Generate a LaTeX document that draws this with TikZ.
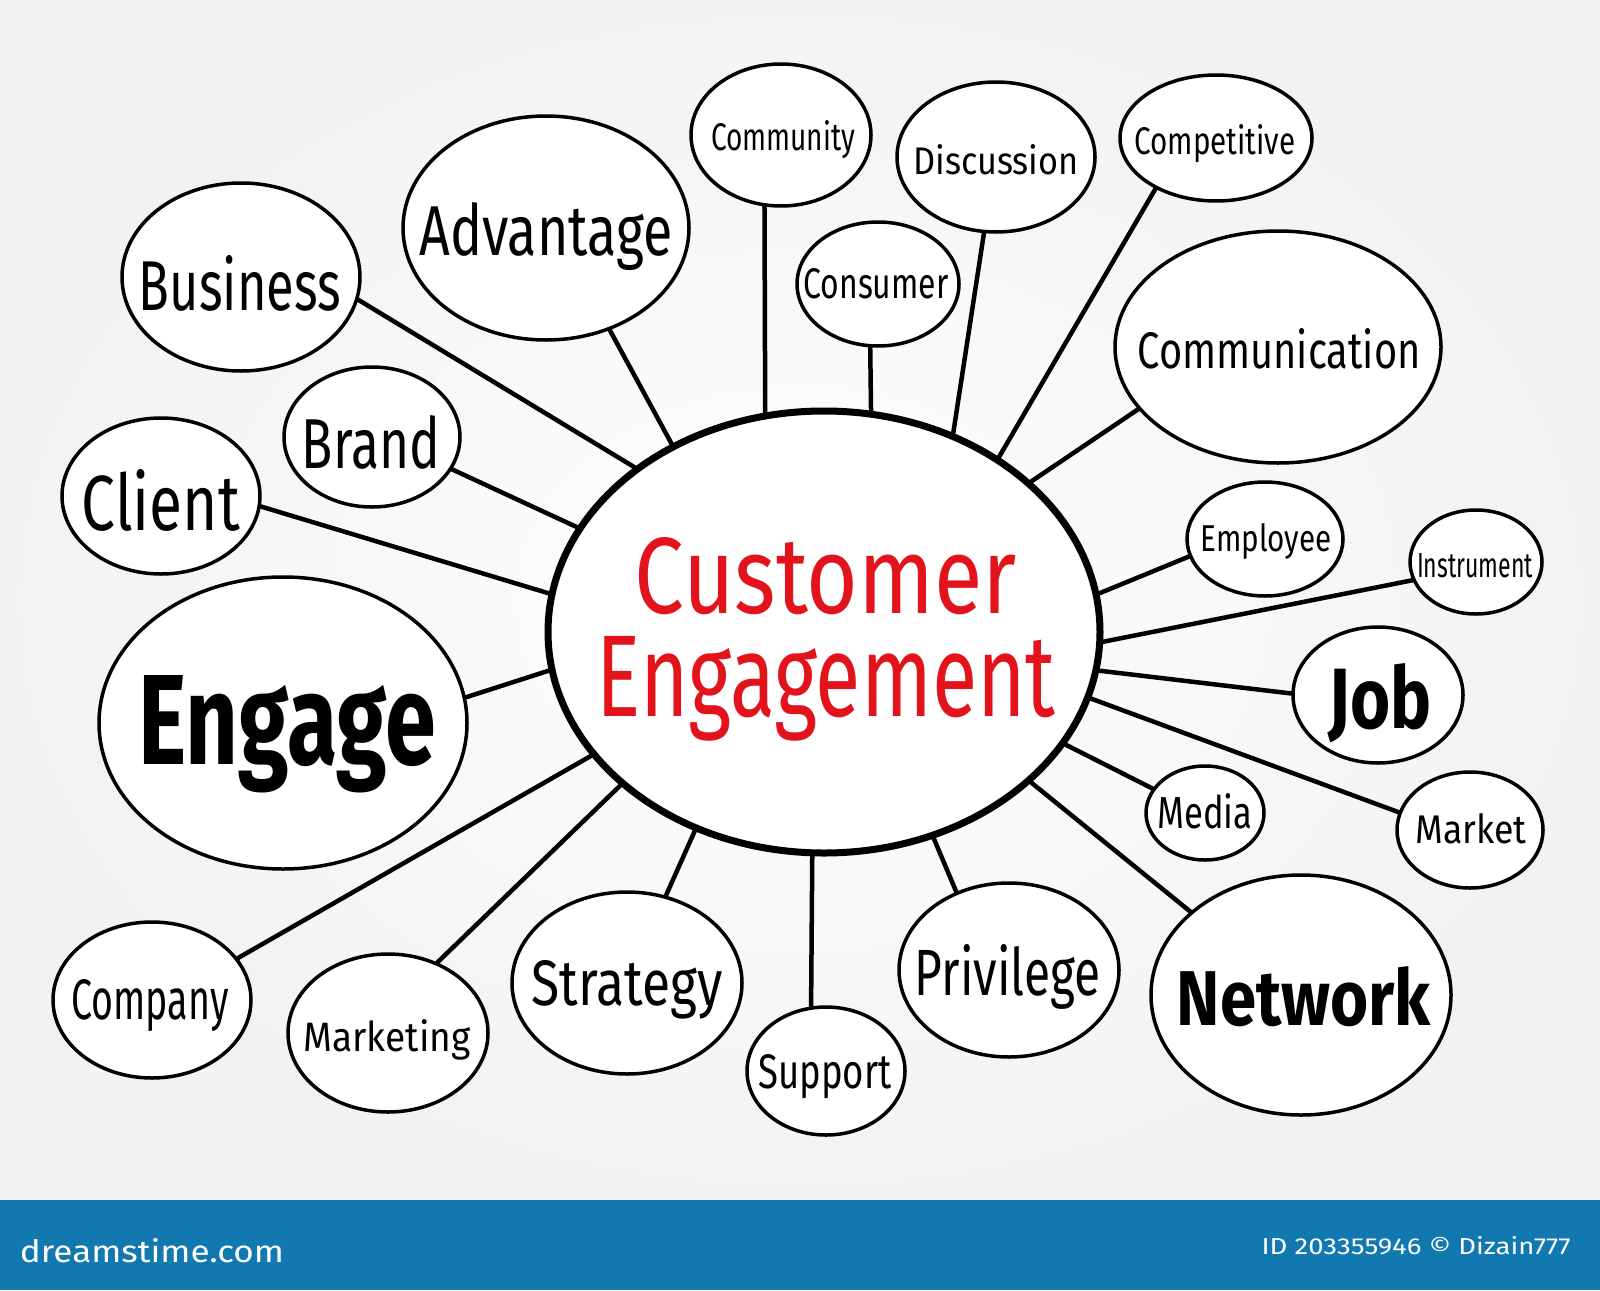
\documentclass[tikz,border=0pt]{standalone}
\usepackage{fontspec}
\setmainfont{Fira Sans}
\usepackage{graphicx}
\usetikzlibrary{shapes.geometric}
\definecolor{inkred}{HTML}{E3131B}
\definecolor{barblue}{HTML}{1278B0}
\newcommand\lbl[3]{\resizebox{#1pt}{#2pt}{#3}}

\begin{document}
\begin{tikzpicture}[x=1pt,y=-1pt,
		bubble/.style={ellipse,draw=black,fill=white,line width=3.5pt,inner sep=0pt},
		word/.style={anchor=base,inner sep=0pt},
		link/.style={line width=4.5pt,line cap=round}]
	\useasboundingbox (0,0) rectangle (1600,1290);
	\shade[inner color=white,outer color=black!5] (0,0) rectangle (1600,1200);
	\fill[barblue] (0,1200) rectangle (1600,1290);
	% bubbles: name/x/y/width/height
	\foreach \nm/\x/\y/\w/\h in {business/241/277/238/188,advantage/546/228/286/224,community/781/135/180/142,consumer/878/284/162/124,discussion/996/157/198/150,competitive/1216/138/192/126,communication/1278/347/326/232,brand/372/437/176/140,client/161/496/198/156,engage/283/723/368/292,employee/1265/539/156/114,instrument/1476/562/132/104,job/1378/695/170/136,media/1205/813/118/94,market/1470/830/146/116,network/1301/995/300/240,privilege/1009/970/220/174,support/826/1071/158/128,strategy/627/983/230/182,marketing/388/1033/200/158,company/152/1000/198/156}
		\node[bubble,minimum width=\w,minimum height=\h] (\nm) at (\x,\y) {};
	\node[bubble,line width=7pt,minimum width=552,minimum height=442] (core) at (824,632) {};
	% words: name/x/baseline/width/height/text
	\foreach \nm/\x/\y/\w/\h/\t in {business/240/310/202/55/Business,advantage/546/255/253/53/Advantage,community/783/150/144/30/Community,consumer/876/298/145/30/Consumer,discussion/996/174/165/30/Discussion,competitive/1215/154/161/30/Competitive,communication/1279/368/283/40/Communication,brand/371/468/138/53/Brand,client/161/530/158/61/Client,engage/287/764/297/89/\bfseries Engage,employee/1266/551/131/28/Employee,instrument/1475/577/116/24/Instrument,job/1380/728/103/65/\bfseries Job,media/1205/828/95/35/Media,market/1471/843/111/30/Market,network/1304/1025/254/59/\bfseries Network,privilege/1008/995/186/51/Privilege,support/825/1088/133/34/Support,strategy/627/1005/191/45/Strategy,marketing/387/1051/167/32/Marketing,company/150/1019/157/40/Company}
		\node[word] (\nm-t) at (\x,\y) {\lbl{\w}{\h}{\t}};
	\node[anchor=north,inner sep=0pt,text=inkred,align=center,
		execute at begin node={\setlength{\baselineskip}{103pt}}] (core-t) at (826,537)
		{\lbl{382}{76}{Customer}\\\lbl{459}{80}{Engagement}};
	% connectors: name/angle on core/angle on bubble
	\foreach \nm/\a/\b in {business/139/349,advantage/129/302,community/105/257,consumer/78/263,discussion/57/261,competitive/45/220,communication/36/204,employee/8/193,instrument/358/196,job/352/179,market/346/166,media/335/155,network/324/143,privilege/298/124,support/267/103,strategy/237/66,marketing/217/55,company/208/26,engage/188/8,client/172/354,brand/157/338}
		\draw[link] (core.\a) -- (\nm.\b);
	\node[word,text=white] (site) at (152,1262) {\resizebox{264pt}{24pt}{dreamstime.com}};
	\node[word,text=white] (stockid) at (1416,1254) {\resizebox{309pt}{18pt}{ID 203355946 © Dizain777}};
\end{tikzpicture}
\end{document}
